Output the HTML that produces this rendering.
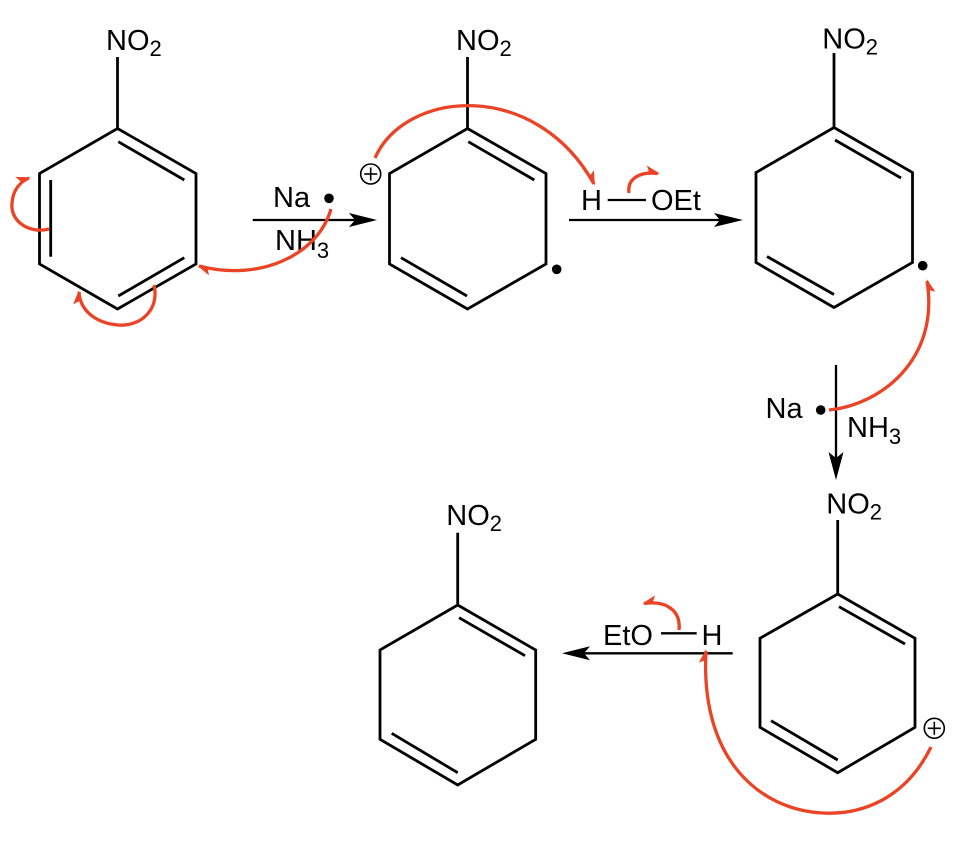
<!DOCTYPE html>
<html>
<head>
<meta charset="utf-8">
<style>
html,body{margin:0;padding:0;background:#fff;}
svg{display:block;}
text{font-family:"Liberation Sans",Arial,sans-serif;fill:#000;}
</style>
</head>
<body>
<svg width="964" height="842" viewBox="0 0 964 842" xmlns="http://www.w3.org/2000/svg">
<defs>
  <marker id="hl" markerUnits="userSpaceOnUse" markerWidth="30" markerHeight="30" viewBox="-15 -15 30 30" refX="0" refY="0" orient="auto" overflow="visible">
    <path d="M2,0 L-12,-6.5 L-9,0 Z" fill="#ea4325"/>
  </marker>
  <marker id="hr" markerUnits="userSpaceOnUse" markerWidth="30" markerHeight="30" viewBox="-15 -15 30 30" refX="0" refY="0" orient="auto" overflow="visible">
    <path d="M2,0 L-12,6.5 L-9,0 Z" fill="#ea4325"/>
  </marker>
</defs>

<g stroke="#000" stroke-width="2.8" fill="none" stroke-linejoin="miter">
  <!-- Molecule 1 -->
  <polygon points="117.5,128.5 196,173.5 196,264 117.5,309 39.5,264 39.5,173.5"/>
  <line x1="117.5" y1="128.5" x2="117.5" y2="57"/>
  <line x1="118.3" y1="141.7" x2="184.3" y2="180"/>
  <line x1="50.7" y1="180" x2="50.7" y2="256.7"/>
  <line x1="118.3" y1="296" x2="184.3" y2="257.7"/>

  <!-- Molecule 2 -->
  <polygon points="467.5,128.5 546,173.5 546,264 467.5,309 389.5,264 389.5,173.5"/>
  <line x1="467.5" y1="128.5" x2="467.5" y2="57"/>
  <line x1="468.3" y1="141.7" x2="534.3" y2="180"/>
  <line x1="401" y1="257.7" x2="467" y2="296"/>

  <!-- Molecule 3 -->
  <polygon points="834,127.5 912.5,172.5 912.5,262.5 834,307.5 756,262.5 756,172.5"/>
  <line x1="834" y1="127.5" x2="834" y2="53"/>
  <line x1="835" y1="140" x2="901" y2="178"/>
  <line x1="767" y1="256.5" x2="834" y2="294.5"/>

  <!-- Molecule 4 -->
  <polygon points="837.7,594 915,638.3 915,727.3 837.7,772.7 760,727.3 760,638.3"/>
  <line x1="837.7" y1="594" x2="837.7" y2="520"/>
  <line x1="839" y1="606.7" x2="905" y2="644"/>
  <line x1="771" y1="720.7" x2="837.7" y2="760"/>

  <!-- Molecule 5 -->
  <polygon points="457.7,605 535.7,650 535.7,739.3 457.7,785 380,739.3 380,650"/>
  <line x1="457.7" y1="605" x2="457.7" y2="532.7"/>
  <line x1="459" y1="617.7" x2="525" y2="655.7"/>
  <line x1="391.7" y1="733.3" x2="457.7" y2="772.7"/>
</g>

<!-- Reaction arrows -->
<g stroke="#000" stroke-width="2.3" fill="none">
  <line x1="252.7" y1="220" x2="358" y2="220"/>
  <line x1="569" y1="220" x2="724" y2="220"/>
  <line x1="836" y1="365" x2="836" y2="462"/>
  <line x1="732.7" y1="653.3" x2="580" y2="653.3"/>
  <!-- bonds H-OEt / EtO-H -->
  <line x1="607.7" y1="200" x2="646" y2="200"/>
  <line x1="661" y1="633.3" x2="696.7" y2="633.3"/>
</g>
<g fill="#000">
  <polygon points="377,220 349,213 355,220 349,227"/>
  <polygon points="743,220 714,213 720,220 714,227"/>
  <polygon points="836,480 828.5,452 836,458 843.5,452"/>
  <polygon points="562,653.3 590,646.3 584,653.3 590,660.3"/>
  <!-- radical dots -->
  <circle cx="329" cy="198.3" r="4.8"/>
  <circle cx="556.7" cy="269.3" r="4.8"/>
  <circle cx="922.7" cy="265.7" r="4.8"/>
  <circle cx="820.7" cy="410" r="4.8"/>
</g>

<!-- Plus charges -->
<g stroke="#000" stroke-width="1.6" fill="none">
  <circle cx="370.7" cy="174" r="10"/>
  <line x1="364.2" y1="174" x2="377.2" y2="174"/>
  <line x1="370.7" y1="167.5" x2="370.7" y2="180.5"/>
  <circle cx="934.3" cy="728.3" r="10"/>
  <line x1="927.8" y1="728.3" x2="940.8" y2="728.3"/>
  <line x1="934.3" y1="721.8" x2="934.3" y2="734.8"/>
</g>

<!-- Texts -->
<g font-size="29">
  <text x="106" y="50">NO<tspan font-size="22" dy="6">2</tspan></text>
  <text x="456" y="50">NO<tspan font-size="22" dy="6">2</tspan></text>
  <text x="822.3" y="48.5">NO<tspan font-size="22" dy="6">2</tspan></text>
  <text x="826.3" y="513.5">NO<tspan font-size="22" dy="6">2</tspan></text>
  <text x="446.3" y="525">NO<tspan font-size="22" dy="6">2</tspan></text>

  <text x="273" y="207">Na</text>
  <text x="275" y="250">NH<tspan font-size="22" dy="8">3</tspan></text>

  <text x="581" y="210">H</text>
  <text x="651" y="210">OEt</text>

  <text x="765.5" y="418">Na</text>
  <text x="847" y="437">NH<tspan font-size="22" dy="7">3</tspan></text>

  <text x="603" y="645">EtO</text>
  <text x="701.5" y="645">H</text>
</g>

<!-- Red curved arrows -->
<g stroke="#ea4325" stroke-width="3.3" fill="none" stroke-linecap="butt">
  <path d="M49,229 C30,234 10,222 12,203 C13,190 20,182 29,178" marker-end="url(#hl)"/>
  <path d="M154,285 C160,310 140,327 118,325 C95,323 80,310 79,292" marker-end="url(#hl)"/>
  <path d="M331,209 C318,255 260,282 199,266" marker-end="url(#hl)"/>
  <path d="M375,158 C405,90 535,78 594,184" marker-end="url(#hl)"/>
  <path d="M629,193 C627,180 638,171 658,173.5" marker-end="url(#hl)"/>
  <path d="M829,410 C880,405 940,360 927,281" marker-end="url(#hr)"/>
  <path d="M679,630 C681,612 668,600 644,603.5" marker-end="url(#hr)"/>
  <path d="M931,747 C905,800 860,815 823,813 C760,810 700,760 706,651" marker-end="url(#hl)"/>
</g>
</svg>
</body>
</html>
